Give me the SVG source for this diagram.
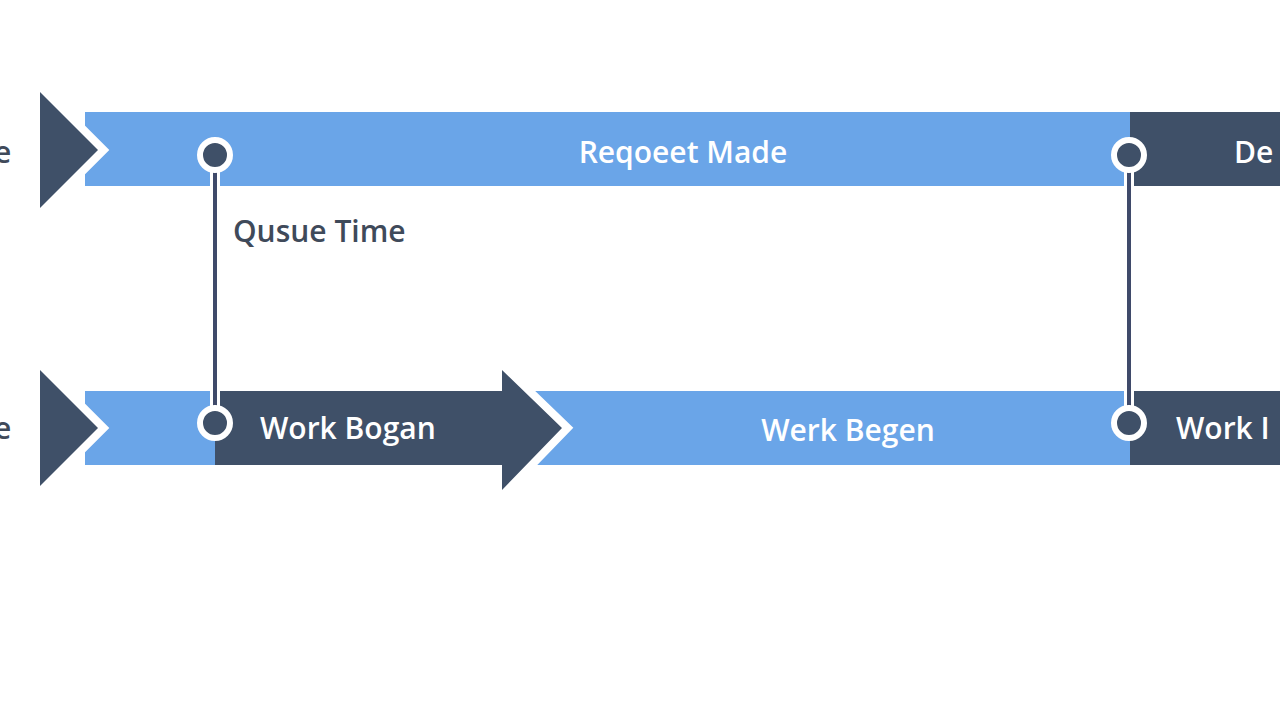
<svg xmlns="http://www.w3.org/2000/svg" width="1280" height="720" viewBox="0 0 1280 720">
<style>
.b{fill:#6aa5e8}.d{fill:#3f5068}
.t{font-family:"Open Sans","Liberation Sans",sans-serif;font-size:30px;font-weight:600}
.w{fill:#fff}.k{fill:#3f4a5a}
.o{fill:#fff;stroke:#fff;stroke-width:16;stroke-linejoin:miter}
.pin{fill:#3f5068;stroke:#fff;stroke-width:6}
</style>
<rect width="1280" height="720" fill="#fff"/>
<g id="row1">
<rect class="b" x="85" y="112" width="1045" height="74"/>
<rect class="d" x="1130" y="112" width="150" height="74"/>
<polygon class="o" points="40,92 98,150 40,208"/>
<polygon class="d" points="40,92 98,150 40,208"/>
<text class="t w" x="683" y="163" text-anchor="middle">Reqoeet Made</text>
<text class="t w" x="1234" y="163">De</text>
<text class="t k" x="-6" y="163">e</text>
</g>
<g id="row2">
<rect class="b" x="85" y="391" width="1045" height="74"/>
<rect class="d" x="1130" y="391" width="150" height="74"/>
<polygon class="o" points="502,391 502,370 562,428 502,490 502,465"/>
<polygon class="d" points="215,391 502,391 502,370 562,428 502,490 502,465 215,465"/>
<polygon class="o" points="40,370 98,428 40,486"/>
<polygon class="d" points="40,370 98,428 40,486"/>
<text class="t w" x="260" y="439">Work Bogan</text>
<text class="t w" x="848" y="441" text-anchor="middle">Werk Begen</text>
<text class="t w" x="1176" y="439">Work I</text>
<text class="t k" x="-6" y="439">e</text>
</g>
<g id="connectors">
<line x1="215" y1="155" x2="215" y2="423" stroke="#fff" stroke-width="10"/>
<line x1="215" y1="155" x2="215" y2="423" stroke="#3f4a6a" stroke-width="4"/>
<line x1="1129" y1="155" x2="1129" y2="423" stroke="#fff" stroke-width="10"/>
<line x1="1129" y1="155" x2="1129" y2="423" stroke="#3f4a6a" stroke-width="4"/>
<circle class="pin" cx="215" cy="155" r="15"/>
<circle class="pin" cx="215" cy="423" r="15"/>
<circle class="pin" cx="1129" cy="155" r="15"/>
<circle class="pin" cx="1129" cy="423" r="15"/>
</g>
<g id="label"><text class="t k" x="233" y="242">Qusue Time</text></g>
</svg>
